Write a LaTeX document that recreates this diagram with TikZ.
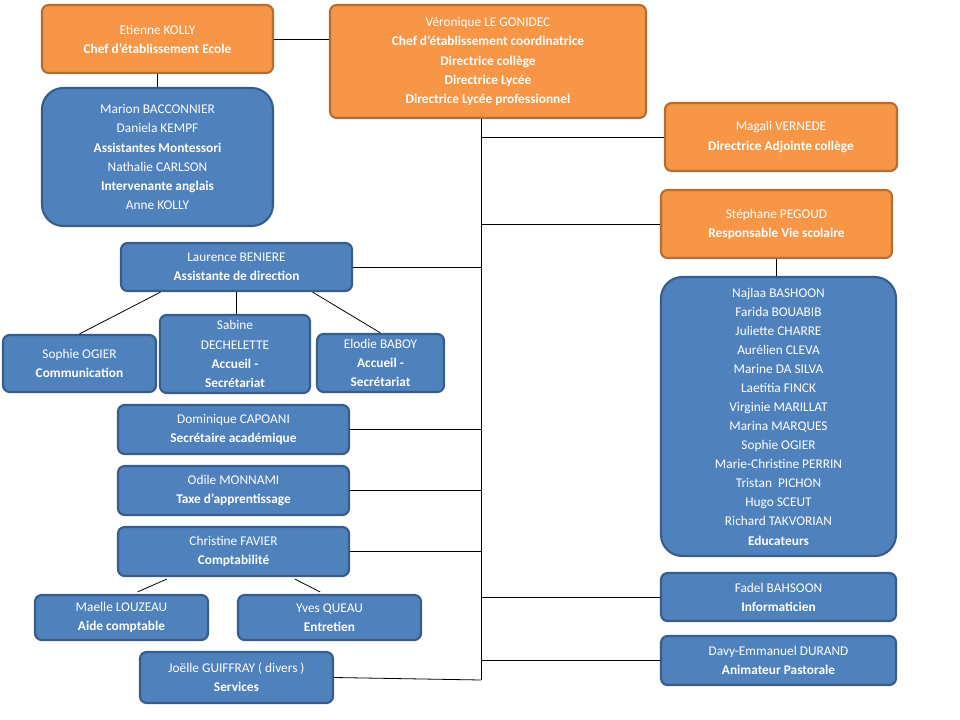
\documentclass[tikz,border=0pt]{standalone}
\usepackage{fontspec}
\setmainfont{Carlito}
\usepackage{tikz}
\definecolor{orgfill}{HTML}{F79646}
\definecolor{orgline}{HTML}{B66D31}
\definecolor{bluefill}{HTML}{4F81BD}
\definecolor{blueline}{HTML}{385D8A}
\tikzset{
  box/.style={draw=#1line, fill=#1fill, line width=1.6pt, rounded corners=5pt, text=white,
    align=center, inner sep=0pt, font=\fontsize{10}{14.3}\selectfont},
  big/.style={rounded corners=16pt},
  link/.style={black, line width=0.6pt}
}
\newcommand{\bx}[6]{\node[box=#1, minimum width=#4*0.75pt, minimum height=#5*0.75pt] (#6) at (#2,#3)}
\begin{document}
\begin{tikzpicture}[x=0.75pt,y=-0.75pt]
\useasboundingbox (0,0) rectangle (960,720);

\bx{org}{157.5}{39}{231}{68}{kolly} {Etienne KOLLY\\\textbf{Chef d’établissement Ecole}};
\bx{org}{488}{61.5}{316}{113}{gonidec} {Véronique LE GONIDEC\\\textbf{Chef d’établissement coordinatrice}\\\textbf{Directrice collège}\\\textbf{Directrice Lycée}\\\textbf{Directrice Lycée professionnel}};
\node[box=blue, big, minimum width=231*0.75pt, minimum height=138*0.75pt] (montessori) at (157.5,157) {Marion BACCONNIER\\Daniela KEMPF\\\textbf{Assistantes Montessori}\\Nathalie CARLSON\\\textbf{Intervenante anglais}\\Anne KOLLY};
\bx{org}{781}{137}{232}{68}{vernede} {Magali VERNEDE\\\textbf{Directrice Adjointe collège}};
\bx{org}{776.5}{224}{231}{68}{pegoud} {Stéphane PEGOUD\\\textbf{Responsable Vie scolaire}};
\node[box=blue, big, minimum width=235*0.75pt, minimum height=279*0.75pt] (educ) at (778.5,416.5) {Najlaa BASHOON\\Farida BOUABIB\\Juliette CHARRE\\Aurélien CLEVA\\Marine DA SILVA\\Laetitia FINCK\\Virginie MARILLAT\\Marina MARQUES\\Sophie OGIER\\Marie-Christine PERRIN\\Tristan\ \ PICHON\\Hugo SCEUT\\Richard TAKVORIAN\\\textbf{Educateurs}};
\bx{blue}{236.5}{267}{231}{48}{beniere} {Laurence BENIERE\\\textbf{Assistante de direction}};
\bx{blue}{79.5}{363.5}{153}{57}{ogier} {Sophie OGIER\\\textbf{Communication}};
\bx{blue}{235}{354}{150}{78}{dechelette} {Sabine\\DECHELETTE\\\textbf{Accueil -}\\\textbf{Secrétariat}};
\bx{blue}{380.5}{363}{127}{58}{baboy} {Elodie BABOY\\\textbf{Accueil -}\\\textbf{Secrétariat}};
\bx{blue}{233.5}{429.5}{231}{49}{capoani} {Dominique CAPOANI\\\textbf{Secrétaire académique}};
\bx{blue}{233.5}{490.5}{231}{49}{monnami} {Odile MONNAMI\\\textbf{Taxe d’apprentissage}};
\bx{blue}{233.5}{551.5}{231}{49}{favier} {Christine FAVIER\\\textbf{Comptabilité}};
\bx{blue}{121.5}{617.5}{173}{45}{louzeau} {Maelle LOUZEAU\\\textbf{Aide comptable}};
\bx{blue}{329.5}{617.5}{183}{45}{queau} {Yves QUEAU\\\textbf{Entretien}};
\bx{blue}{236.5}{677.5}{193}{51}{guiffray} {Joëlle GUIFFRAY ( divers )\\\textbf{Services}};
\bx{blue}{778.5}{597}{235}{48}{bahsoon} {Fadel BAHSOON\\\textbf{Informaticien}};
\bx{blue}{778.5}{660.5}{235}{49}{durand} {Davy-Emmanuel DURAND\\\textbf{Animateur Pastorale}};

\coordinate (spine) at (481,680);
\draw[link] (kolly.east) -- (gonidec.west |- kolly.east);
\draw[link] (kolly.south) -- (montessori.north);
\draw[link] (gonidec.south -| spine) -- (spine);
\draw[link] (vernede.west) -- (vernede.west -| spine);
\draw[link] (pegoud.west) -- (pegoud.west -| spine);
\draw[link] (pegoud.south) -- (pegoud.south |- educ.north);
\draw[link] (beniere.east) -- (beniere.east -| spine);
\draw[link] (capoani.east) -- (capoani.east -| spine);
\draw[link] (monnami.east) -- (monnami.east -| spine);
\draw[link] (favier.east) -- (favier.east -| spine);
\draw[link] (guiffray.east) -- (spine);
\draw[link] (bahsoon.west) -- (bahsoon.west -| spine);
\draw[link] (durand.west) -- (durand.west -| spine);
\draw[link] (beniere.south) -- (dechelette.north -| beniere.south);
\draw[link] ([xshift=-57pt]beniere.south) -- (ogier.north);
\draw[link] ([xshift=57pt]beniere.south) -- (baboy.north);
\draw[link] ([xshift=-50pt,yshift=-1.5pt]favier.south) -- ([xshift=12pt,yshift=1.5pt]louzeau.north);
\draw[link] ([xshift=46pt,yshift=-1.5pt]favier.south) -- ([xshift=-7pt,yshift=1.5pt]queau.north);
\end{tikzpicture}
\end{document}
